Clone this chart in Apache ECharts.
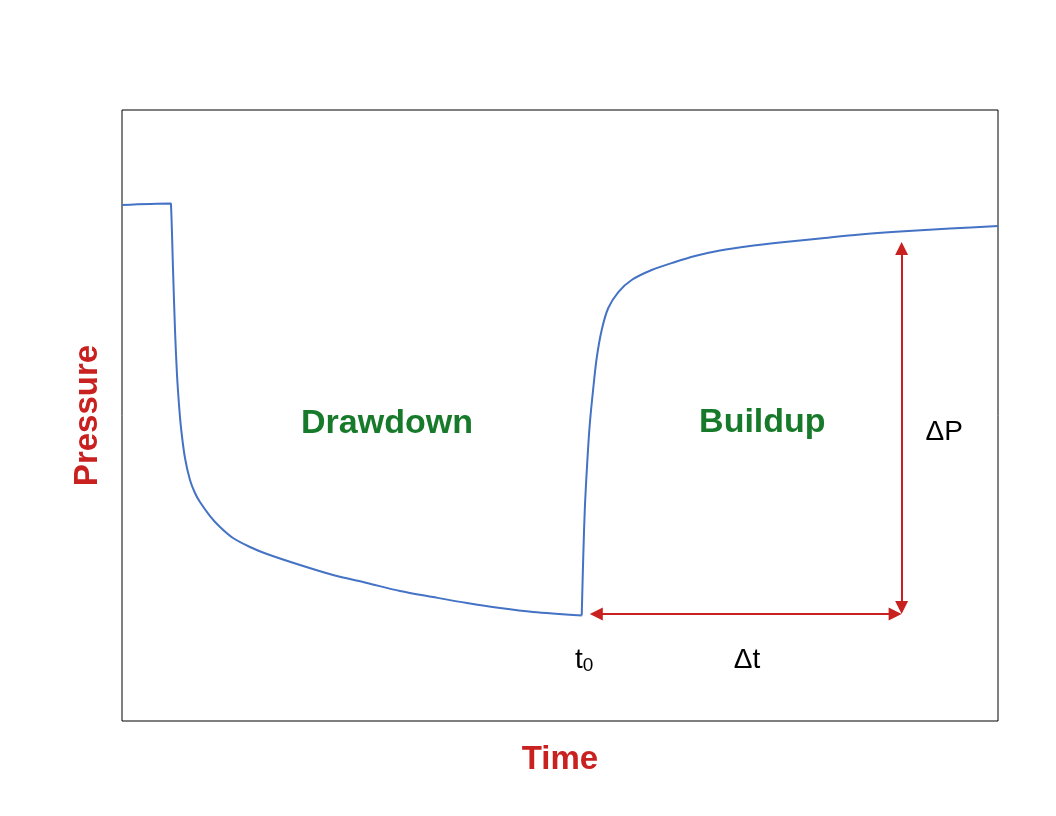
<!DOCTYPE html>
<html>
<head>
<meta charset="utf-8">
<title>Pressure transient: drawdown and buildup</title>
<script src="https://cdn.jsdelivr.net/npm/echarts@6/dist/echarts.min.js"></script>
<style>
  html, body { margin: 0; padding: 0; background: #fff; }
  #chart { width: 1056px; height: 816px; }
</style>
</head>
<body>
<div id="chart"></div>
<script>
// Drawdown period: well flowing, pressure falls from the initial level
const drawdownTime = [0, 5.48, 5.59, 5.82, 6.05, 6.28, 6.51, 6.74, 7.19, 7.76, 8.33, 8.90, 10.05, 11.19, 12.67, 14.61, 16.55, 20.32, 24.09, 27.97, 31.74, 35.50, 39.38, 43.15, 46.92, 52.48];
const drawdownPressure = [84.45, 84.70, 84.62, 74.14, 63.99, 56.63, 51.72, 47.95, 43.04, 39.44, 37.32, 35.84, 33.55, 31.75, 29.95, 28.48, 27.33, 25.53, 23.90, 22.59, 21.28, 20.29, 19.31, 18.49, 17.84, 17.27];

// Buildup period: well shut in at t0, pressure recovers
const buildupTime = [52.48, 52.66, 52.85, 53.16, 53.42, 53.80, 54.19, 54.76, 55.51, 56.66, 58.18, 60.47, 63.13, 65.41, 68.26, 71.69, 75.11, 79.68, 84.25, 88.81, 94.52, 100];
const buildupPressure = [17.27, 27.17, 35.35, 43.54, 48.94, 54.50, 59.41, 63.99, 67.59, 70.21, 72.18, 73.81, 75.12, 76.10, 77.00, 77.74, 78.31, 78.97, 79.62, 80.11, 80.61, 81.01];

// Shut-in time and the elapsed time / pressure change being measured
const t0 = 53.4;
const tEnd = 89.0;
const pShutIn = 17.5;
const pEnd = 78.4;

// Text annotations and where they sit, in data units
const phaseLabels = ['Drawdown', 'Buildup'];
const phaseX = [30.25, 73.1];
const phaseY = [48.6, 48.8];
const deltaLabels = ['{d|ΔP}', '{d|t}{s|0}', '{d|Δt}'];
const deltaX = [93.85, 52.75, 71.35];
const deltaY = [47.3, 10.0, 10.0];

const red = '#C8211F';
const green = '#177A2A';
const blue = '#4472C4';
const arrowHead = 13;

const chart = echarts.init(document.getElementById('chart'));

const option = {
  backgroundColor: '#fff',
  animation: false,
  grid: {
    left: 122, top: 110, right: 58, bottom: 95,
    show: true, borderColor: '#000', borderWidth: 1, backgroundColor: 'transparent'
  },
  xAxis: {
    type: 'value', min: 0, max: 100,
    name: 'Time', nameLocation: 'middle', nameGap: 22,
    nameTextStyle: { color: red, fontSize: 33, fontWeight: 'bold', fontFamily: 'Liberation Sans' },
    axisLine: { show: false }, axisTick: { show: false },
    axisLabel: { show: false }, splitLine: { show: false }
  },
  yAxis: {
    type: 'value', min: 0, max: 100,
    name: 'Pressure', nameLocation: 'middle', nameGap: 18,
    nameTextStyle: { color: red, fontSize: 33, fontWeight: 'bold', fontFamily: 'Liberation Sans' },
    axisLine: { show: false }, axisTick: { show: false },
    axisLabel: { show: false }, splitLine: { show: false }
  },
  series: [
    {
      name: 'Drawdown',
      type: 'line',
      data: drawdownTime.map((t, i) => [t, drawdownPressure[i]]),
      showSymbol: false,
      smooth: 0.3,
      lineStyle: { color: blue, width: 2 },
      z: 3
    },
    {
      name: 'Buildup',
      type: 'line',
      data: buildupTime.map((t, i) => [t, buildupPressure[i]]),
      showSymbol: false,
      smooth: 0.3,
      lineStyle: { color: blue, width: 2 },
      z: 3
    },
    {
      name: 'Measures',
      type: 'line',
      data: [],
      markLine: {
        silent: true,
        symbol: ['triangle', 'triangle'],
        symbolSize: arrowHead,
        label: { show: false },
        lineStyle: { color: red, width: 2, type: 'solid', opacity: 1 },
        data: []
      }
    },
    {
      name: 'Phases',
      type: 'scatter',
      symbolSize: 0,
      itemStyle: { opacity: 1 },
      data: phaseLabels.map((n, i) => ({ name: n, value: [phaseX[i], phaseY[i]] })),
      label: {
        show: true, position: 'inside', formatter: '{b}',
        color: green, fontSize: 34, fontWeight: 'bold', fontFamily: 'Liberation Sans'
      }
    },
    {
      name: 'Deltas',
      type: 'scatter',
      symbolSize: 0,
      itemStyle: { opacity: 1 },
      data: deltaLabels.map((n, i) => ({ name: n, value: [deltaX[i], deltaY[i]] })),
      label: {
        show: true, position: 'inside', formatter: '{b}',
        rich: {
          d: { color: '#000', fontSize: 28, fontFamily: 'Liberation Sans' },
          s: { color: '#000', fontSize: 19, fontFamily: 'Liberation Sans', padding: [12, 0, 0, 0] }
        }
      }
    }
  ]
};

chart.setOption(option);

// Arrow symbols are centred on their end points, so pull each end in by half
// a head so the tips land exactly on the measured points.
const half = arrowHead / 2;
const pStart = chart.convertToPixel({ gridIndex: 0 }, [t0, pShutIn]);
const pCorner = chart.convertToPixel({ gridIndex: 0 }, [tEnd, pShutIn]);
const pTop = chart.convertToPixel({ gridIndex: 0 }, [tEnd, pEnd]);

chart.setOption({
  series: [{}, {}, {
    markLine: {
      data: [
        [{ x: pStart[0] + half, y: pStart[1] }, { x: pCorner[0] - half, y: pCorner[1] }],
        [{ x: pCorner[0], y: pCorner[1] - half }, { x: pTop[0], y: pTop[1] + half }]
      ]
    }
  }]
});
</script>
</body>
</html>
